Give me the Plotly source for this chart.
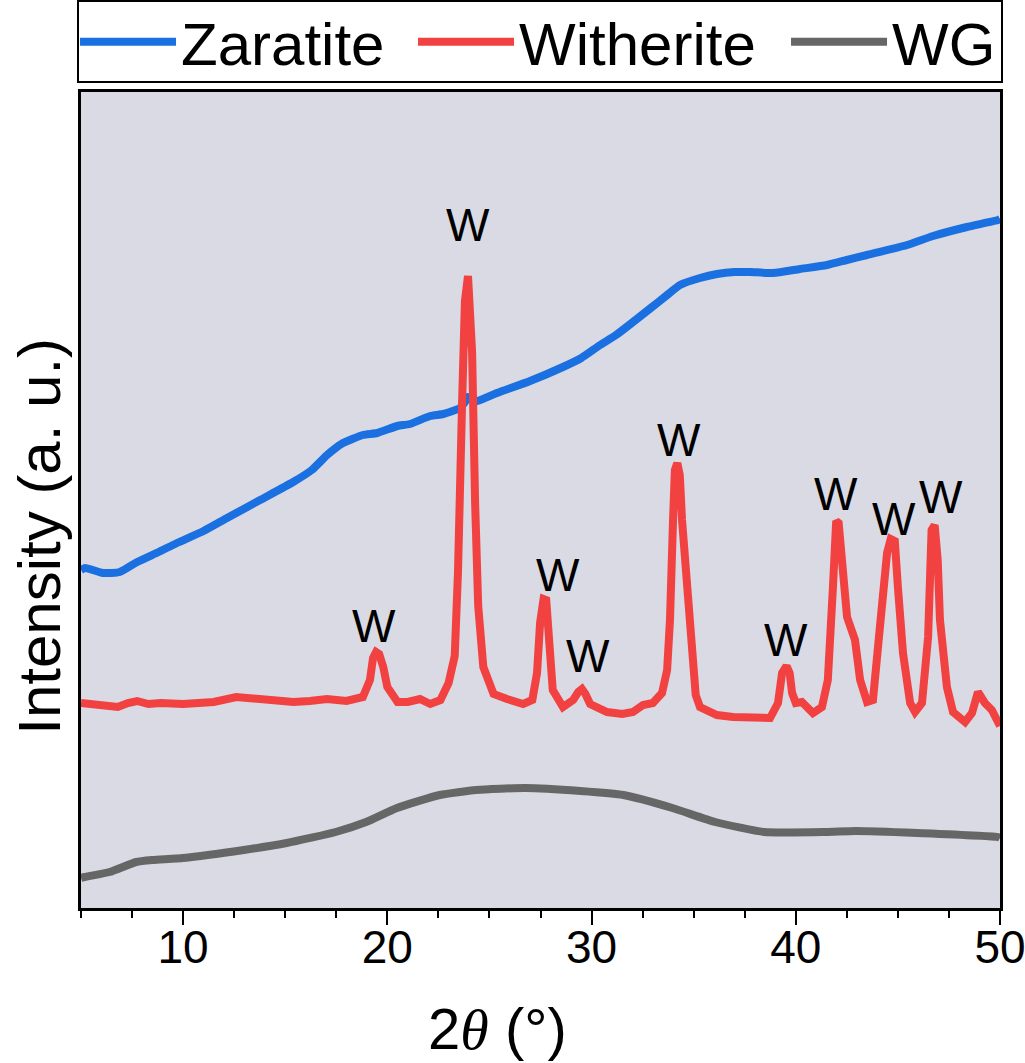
import plotly.graph_objects as go

# ---- data (2theta in degrees, intensity in arbitrary units) ----
zar_x = [5.0, 5.2, 6.08, 6.9, 7.75, 8.8, 9.7, 11.0, 12.15, 13.77, 15.39, 16.3, 17.05, 17.83,
         18.8, 19.5, 20.5, 21.1, 22.1, 22.73, 23.56, 23.8, 23.95, 24.15, 24.4, 25.37, 26.99,
         28.6, 29.5, 30.42, 31.2, 32.03, 32.9, 33.7, 34.33, 35.31, 36.14, 37.0, 37.76, 38.89,
         40.2, 41.53, 42.5, 43.49, 45.45, 46.72, 48.38, 49.9, 50.0]
zar_y = [338, 340, 335, 336, 346, 356, 365, 377, 390, 408, 426, 438, 453, 465,
         473, 475, 482, 484, 492, 494, 500, 506, 511, 508, 507, 515, 527,
         541, 550, 563, 573, 586, 600, 613, 623, 630, 634, 636, 636, 635,
         639, 643, 648, 653, 663, 672, 681, 688, 689]

wit_x = [5.0, 5.6, 6.2, 6.8, 7.3, 7.75, 8.3, 8.9, 10.0, 11.5, 12.6, 13.5, 14.5, 15.4, 16.2,
         17.05, 18.0, 18.8, 19.15, 19.3, 19.45, 19.6, 19.8, 20.0, 20.5, 21.0, 21.6, 22.1,
         22.6, 23.0, 23.3, 23.46, 23.66, 23.8, 23.95, 24.15, 24.3, 24.45, 24.7, 25.2, 25.86,
         26.65, 27.1, 27.33, 27.48, 27.65, 27.78, 27.92, 28.1, 28.6, 29.1, 29.35, 29.53,
         29.7, 29.93, 30.76, 31.5, 32.03, 32.52, 33.0, 33.45, 33.7, 33.84, 33.99, 34.08,
         34.2, 34.32, 34.43, 34.55, 34.68, 34.8, 34.92, 35.1, 35.31, 36.14, 36.93, 37.76,
         38.74, 39.13, 39.33, 39.55, 39.7, 39.82, 40.0, 40.3, 40.55, 40.84, 41.28, 41.57,
         41.82, 41.98, 42.1, 42.26, 42.51, 42.9, 43.15, 43.49, 43.78, 44.12, 44.47, 44.65,
         44.85, 45.0, 45.25, 45.6, 45.84, 46.18, 46.48, 46.65, 46.8, 46.95, 47.06, 47.4,
         47.7, 48.29, 48.63, 48.92, 49.26, 49.6, 49.9, 50.0]
wit_y = [205, 204, 202, 201, 205, 207, 204, 205, 204, 206, 211, 209, 207, 206, 207,
         209, 207, 211, 228, 250, 256, 254, 241, 221, 206, 206, 209, 204,
         208, 225, 252, 336, 505, 607, 632, 556, 404, 302, 241, 214, 209,
         204, 208, 235, 285, 309, 308, 268, 218, 201, 208, 216, 219,
         214, 204, 196, 194, 196, 203, 205, 215, 238, 288, 388, 438,
         445, 433, 388, 353, 318, 273, 238, 213, 201, 193, 191, 190,
         190, 205, 235, 242, 235, 215, 205, 206, 200, 195, 201, 228,
         321, 387, 385, 338, 291, 268, 228, 206, 208, 281, 355, 369,
         367, 321, 255, 205, 196, 205, 271, 378, 383, 348, 288, 221,
         196, 186, 195, 216, 205, 198, 185, 182]

wg_x = [5.0, 5.17, 6.4, 7.7, 8.5, 10.0, 12.97, 15.07, 17.47, 18.96, 20.47, 22.57, 24.36,
        26.76, 29.46, 31.56, 33.96, 36.05, 38.45, 41.46, 42.95, 45.94, 49.9, 50.0]
wg_y = [30, 31, 36, 46, 48, 50, 58, 65, 76, 86, 100, 113, 118,
        120, 117, 113, 100, 86, 76, 76, 77, 75, 71, 70]

# peak labels
label_x = [19.36, 23.95, 28.36, 29.83, 34.3, 39.5, 41.97, 44.8, 47.1]
label_y = [282, 683, 333, 252, 468, 268, 414, 389, 411]
label_text = ["W"] * len(label_x)

tick_vals = [10, 20, 30, 40, 50]
tick_text = ["10", "20", "30", "40", "50"]

FONT = "Liberation Sans, Arial, sans-serif"
LW = 8

fig = go.Figure()
fig.add_trace(go.Scatter(x=zar_x, y=zar_y, mode="lines", name="Zaratite",
                         line=dict(color="#1a70e0", width=LW, shape="spline", smoothing=0.5),
                         legendwidth=227))
fig.add_trace(go.Scatter(x=wit_x, y=wit_y, mode="lines", name="Witherite",
                         line=dict(color="#f24141", width=LW),
                         legendwidth=262))
fig.add_trace(go.Scatter(x=wg_x, y=wg_y, mode="lines", name="WG",
                         line=dict(color="#666666", width=LW, shape="spline", smoothing=0.5)))

for lx, ly, lt in zip(label_x, label_y, label_text):
    fig.add_annotation(x=lx, y=ly, text=lt, showarrow=False,
                       font=dict(family=FONT, size=46, color="black"),
                       xanchor="center", yanchor="middle")

# axis titles
fig.add_annotation(xref="paper", yref="paper", x=0.453, y=-0.1483,
                   text="2<span style='font-family:Liberation Serif'><i>θ</i></span> (°)",
                   showarrow=False,
                   font=dict(family=FONT, size=58, color="black"),
                   xanchor="center", yanchor="middle")
fig.add_annotation(xref="paper", yref="paper", x=-0.0446, y=0.455,
                   text="Intensity (a. u.)", showarrow=False, textangle=-90,
                   borderpad=0,
                   font=dict(family=FONT, size=60, color="black"),
                   xanchor="center", yanchor="middle")

# legend frame
fig.add_shape(type="rect", xref="paper", yref="paper",
              x0=-0.00326, x1=1.00218, y0=1.01225, y1=1.11152,
              line=dict(color="black", width=2), fillcolor="white", layer="below")

fig.update_layout(
    width=1025, height=1063,
    margin=dict(l=81, r=25, t=92, b=155, autoexpand=False),
    paper_bgcolor="white",
    plot_bgcolor="#d9dae3",
    font=dict(family=FONT, color="black"),
    showlegend=True,
    legend=dict(orientation="h", xref="paper", yref="paper",
                x=-0.0065, xanchor="left", y=1.0617, yanchor="middle",
                bgcolor="rgba(0,0,0,0)", borderwidth=0,
                font=dict(family=FONT, size=60, color="black"),
                itemwidth=96, tracegroupgap=0),
    xaxis=dict(range=[5, 50], tickvals=tick_vals, ticktext=tick_text,
               ticks="outside", ticklen=14, tickwidth=2, tickcolor="black",
               minor=dict(dtick=2.5, tick0=0, ticks="outside", ticklen=7,
                          tickwidth=2, tickcolor="black"),
               showline=True, linecolor="black", linewidth=2.5, mirror=True,
               showgrid=False, zeroline=False, ticklabeloverflow="allow",
               ticklabelstandoff=-17,
               tickfont=dict(family=FONT, size=46, color="black")),
    yaxis=dict(range=[0, 816], showticklabels=False, ticks="",
               showline=True, linecolor="black", linewidth=2.5, mirror=True,
               showgrid=False, zeroline=False),
)

fig.write_html("out.html", config={"displayModeBar": False},
               post_script="document.body.style.margin='0px';"
                           "document.body.style.overflow='hidden';")
